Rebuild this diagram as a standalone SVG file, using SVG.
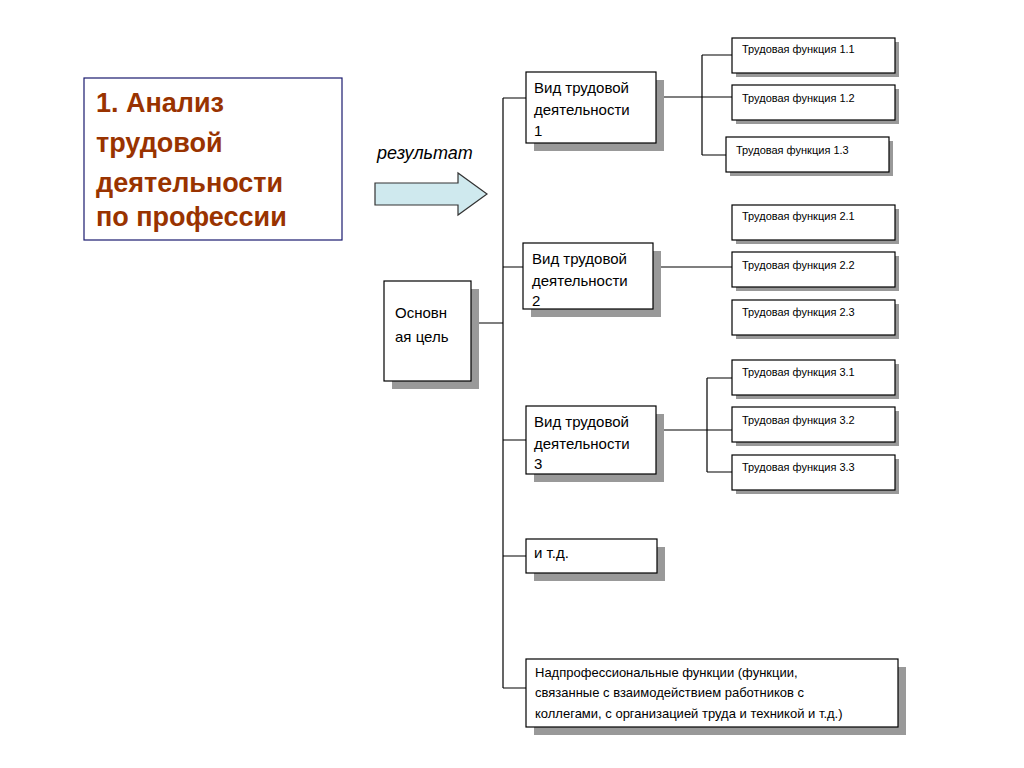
<svg xmlns="http://www.w3.org/2000/svg" width="1024" height="768" viewBox="0 0 1024 768">
<style>
.b{fill:#fff;stroke:#000;stroke-width:1.2}
.s{fill:#999}
.t{font-family:"Liberation Sans",Arial,sans-serif;fill:#000}
.f{font-size:11px}
.v{font-size:15px}
.c{fill:none;stroke:#000;stroke-width:1.2}
</style>
<rect width="1024" height="768" fill="#fff"/>
<g id="title"><rect x="84" y="78" width="258" height="162" fill="#fff" stroke="#1a1a6e" stroke-width="1.2"/>
<text class="t" font-size="27" font-weight="bold" fill="#993300" style="fill:#993300"><tspan x="96" y="112">1. Анализ</tspan><tspan x="96" y="152">трудовой</tspan><tspan x="96" y="192">деятельности</tspan><tspan x="96" y="226">по профессии</tspan></text></g>
<g id="arrow"><polygon points="375,183 458,183 458,173 487,194 458,215 458,205 375,205" fill="#cfe9ee" stroke="#333" stroke-width="1.2"/>
<text class="t" x="377" y="159" font-size="18" font-style="italic">результат</text></g>
<g id="connectors">
<path class="c" d="M471,323H503M503,98V688M503,98H526M503,267H523M503,440H526M503,556H526M503,688H526"/>
<path class="c" d="M656,97H732M702,55V155M702,55H732M702,155H726"/>
<path class="c" d="M653,267H732"/>
<path class="c" d="M656,430H732M707,378V472M707,378H732M707,472H732"/>
</g>
<g id="goal"><rect class="s" x="392" y="289" width="87" height="100"/><rect class="b" x="384" y="281" width="87" height="100"/><text class="t v"><tspan x="395" y="318">Основн</tspan><tspan x="395" y="342">ая цель</tspan></text></g>
<g id="vid1"><rect class="s" x="534" y="80" width="130" height="71"/><rect class="b" x="526" y="72" width="130" height="71"/><text class="t v"><tspan x="534" y="93">Вид трудовой</tspan><tspan x="534" y="115">деятельности</tspan><tspan x="534" y="136">1</tspan></text></g>
<g id="vid2"><rect class="s" x="531" y="251" width="130" height="66"/><rect class="b" x="523" y="243" width="130" height="66"/><text class="t v"><tspan x="532" y="264">Вид трудовой</tspan><tspan x="532" y="286">деятельности</tspan><tspan x="532" y="306">2</tspan></text></g>
<g id="vid3"><rect class="s" x="534" y="414" width="130" height="68"/><rect class="b" x="526" y="406" width="130" height="68"/><text class="t v"><tspan x="534" y="427">Вид трудовой</tspan><tspan x="534" y="449">деятельности</tspan><tspan x="534" y="469">3</tspan></text></g>
<g id="etc"><rect class="s" x="534" y="547" width="131" height="34"/><rect class="b" x="526" y="539" width="131" height="34"/><text class="t v" x="534" y="558">и т.д.</text></g>
<g id="nadprof"><rect class="s" x="534" y="667" width="372" height="68"/><rect class="b" x="526" y="659" width="372" height="68"/><text class="t" font-size="13"><tspan x="535" y="677">Надпрофессиональные функции (функции,</tspan><tspan x="535" y="697">связанные с взаимодействием работников с</tspan><tspan x="535" y="718">коллегами, с организацией труда и техникой и т.д.)</tspan></text></g>
<g id="f11"><rect class="s" x="736" y="42" width="163" height="35"/><rect class="b" x="732" y="38" width="163" height="35"/><text class="t f" x="742" y="53">Трудовая функция 1.1</text></g>
<g id="f12"><rect class="s" x="736" y="89" width="163" height="35"/><rect class="b" x="732" y="85" width="163" height="35"/><text class="t f" x="742" y="102">Трудовая функция 1.2</text></g>
<g id="f13"><rect class="s" x="730" y="141" width="163" height="35"/><rect class="b" x="726" y="137" width="163" height="35"/><text class="t f" x="736" y="154">Трудовая функция 1.3</text></g>
<g id="f21"><rect class="s" x="736" y="209" width="163" height="35"/><rect class="b" x="732" y="205" width="163" height="35"/><text class="t f" x="742" y="220">Трудовая функция  2.1</text></g>
<g id="f22"><rect class="s" x="736" y="256" width="163" height="35"/><rect class="b" x="732" y="252" width="163" height="35"/><text class="t f" x="742" y="269">Трудовая функция 2.2</text></g>
<g id="f23"><rect class="s" x="736" y="304" width="163" height="35"/><rect class="b" x="732" y="300" width="163" height="35"/><text class="t f" x="742" y="316">Трудовая функция 2.3</text></g>
<g id="f31"><rect class="s" x="736" y="364" width="163" height="35"/><rect class="b" x="732" y="360" width="163" height="35"/><text class="t f" x="742" y="376">Трудовая функция  3.1</text></g>
<g id="f32"><rect class="s" x="736" y="411" width="163" height="35"/><rect class="b" x="732" y="407" width="163" height="35"/><text class="t f" x="742" y="424">Трудовая функция 3.2</text></g>
<g id="f33"><rect class="s" x="736" y="459" width="163" height="35"/><rect class="b" x="732" y="455" width="163" height="35"/><text class="t f" x="742" y="471">Трудовая функция  3.3</text></g>
</svg>
